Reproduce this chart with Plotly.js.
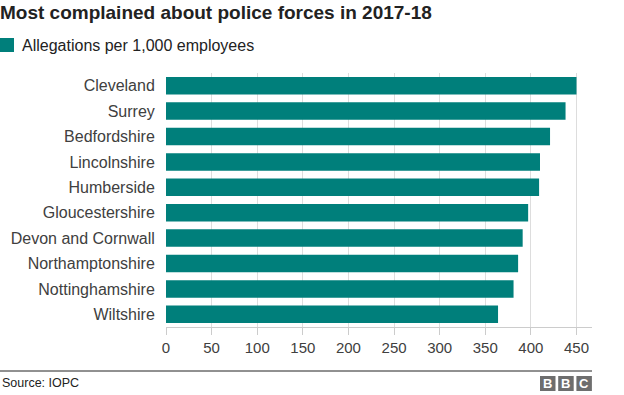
<!DOCTYPE html>
<html>
<head>
<meta charset="utf-8">
<script src="https://cdn.plot.ly/plotly-3.0.1.min.js"></script>
<style>html,body{margin:0;padding:0;background:#fff;}#chart{width:624px;height:395px;}</style>
</head>
<body>
<div id="chart"></div>
<script>
const forces = ["Cleveland","Surrey","Bedfordshire","Lincolnshire","Humberside","Gloucestershire","Devon and Cornwall","Northamptonshire","Nottinghamshire","Wiltshire"];
const allegations = [450, 438, 421, 410, 409, 397, 391, 386, 381, 364];
const xTicks = [0, 50, 100, 150, 200, 250, 300, 350, 400, 450];
const seriesName = "Allegations per 1,000 employees";
const titleText = "Most complained about police forces in 2017-18";
const sourceText = "Source: IOPC";

const W = 624, H = 395;
const L = 166, R = 592, T = 73, B = 327;
const px = x => (x - L) / (R - L);
const py = y => (B - y) / (B - T);
const FONT = "Arial, 'Liberation Sans', Helvetica, sans-serif";
const teal = "#007f7b";

const trace = {
  type: "bar",
  orientation: "h",
  y: forces,
  x: allegations,
  name: seriesName,
  marker: {color: teal},
  hoverinfo: "x+y"
};

const logoShapes = [];
const logoAnn = [];
["B","B","C"].forEach((ch, i) => {
  const x0 = 540 + i * 18.2, x1 = x0 + 15.5;
  logoShapes.push({type: "rect", xref: "paper", yref: "paper", x0: px(x0), x1: px(x1), y0: py(391), y1: py(376), fillcolor: "#6e6e6e", line: {width: 0}});
  logoAnn.push({text: "<b>" + ch + "</b>", xref: "paper", yref: "paper", x: px((x0 + x1) / 2), y: py(383.5), xanchor: "center", yanchor: "middle", showarrow: false, font: {family: FONT, size: 13, color: "#ffffff"}});
});

const layout = {
  width: W, height: H,
  margin: {l: L, r: W - R, t: T, b: H - B, pad: 0},
  paper_bgcolor: "#ffffff",
  plot_bgcolor: "#ffffff",
  showlegend: false,
  bargap: 0.31,
  title: {
    text: "<b>" + titleText + "</b>",
    xref: "container", yref: "container",
    x: 0, xanchor: "left",
    y: 1 - 6 / H, yanchor: "top",
    font: {family: FONT, size: 19, color: "#222222"}
  },
  xaxis: {
    range: [0, 467],
    tickvals: xTicks,
    ticktext: xTicks.map(String),
    showgrid: true,
    gridcolor: "#dddddd",
    gridwidth: 1,
    zeroline: false,
    showline: true,
    linecolor: "#cccccc",
    linewidth: 1,
    ticks: "outside",
    ticklen: 7,
    tickcolor: "#cccccc",
    tickfont: {family: FONT, size: 15, color: "#404040"},
    fixedrange: true
  },
  yaxis: {
    type: "category",
    categoryorder: "array",
    categoryarray: forces,
    autorange: "reversed",
    showgrid: false,
    zeroline: false,
    showline: false,
    ticks: "outside",
    ticklen: 7,
    tickcolor: "rgba(0,0,0,0)",
    tickfont: {family: FONT, size: 16, color: "#404040"},
    fixedrange: true
  },
  shapes: [
    {type: "rect", xref: "paper", yref: "paper", x0: px(0), x1: px(14), y0: py(52), y1: py(38), fillcolor: teal, line: {width: 0}},
    {type: "line", xref: "paper", yref: "paper", x0: px(0), x1: px(592), y0: py(371), y1: py(371), line: {color: "#222222", width: 1}}
  ].concat(logoShapes),
  annotations: [
    {text: seriesName, xref: "paper", yref: "paper", x: px(20), y: py(46), xanchor: "left", yanchor: "middle", showarrow: false, font: {family: FONT, size: 16, color: "#222222"}},
    {text: sourceText, xref: "paper", yref: "paper", x: px(0), y: py(383), xanchor: "left", yanchor: "middle", showarrow: false, font: {family: FONT, size: 12.5, color: "#222222"}}
  ].concat(logoAnn)
};

Plotly.newPlot("chart", [trace], layout, {displayModeBar: false, staticPlot: true});
</script>
</body>
</html>
